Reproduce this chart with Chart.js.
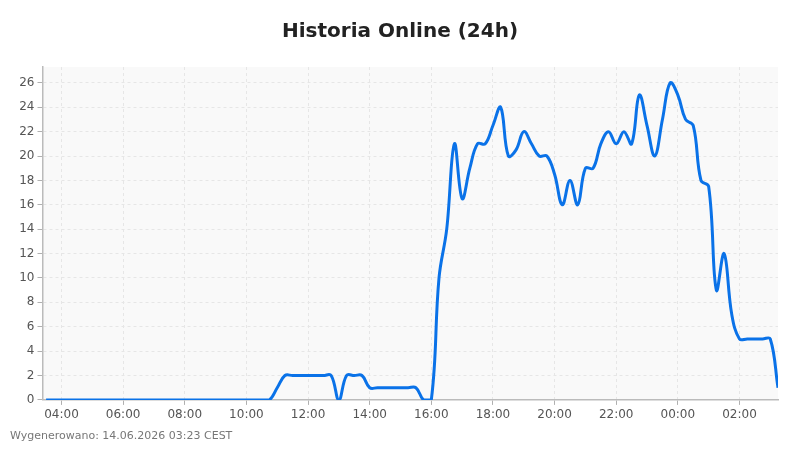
<!DOCTYPE html>
<html>
<head>
<meta charset="utf-8">
<script src="https://cdn.jsdelivr.net/npm/chart.js@4.4.1/dist/chart.umd.min.js"></script>
<style>
  html, body { margin: 0; padding: 0; background: #fff; }
  #wrap { position: relative; width: 800px; height: 450px; }
  #footer {
    position: absolute; left: 10px; top: 429px;
    font: 11px/13px 'DejaVu Sans', sans-serif; color: #777;
    white-space: nowrap;
  }
</style>
</head>
<body>
<div id="wrap">
  <canvas id="onlineChart" width="800" height="450"></canvas>
  <div id="footer">Wygenerowano: 14.06.2026 03:23 CEST</div>
</div>
<script>
// samples every 15 min, 03:30 -> 03:15 next day
const times = [
  "03:30", "03:45", "04:00", "04:15", "04:30", "04:45", "05:00", "05:15", "05:30", "05:45",
  "06:00", "06:15", "06:30", "06:45", "07:00", "07:15", "07:30", "07:45", "08:00", "08:15",
  "08:30", "08:45", "09:00", "09:15", "09:30", "09:45", "10:00", "10:15", "10:30", "10:45",
  "11:00", "11:15", "11:30", "11:45", "12:00", "12:15", "12:30", "12:45", "13:00", "13:15",
  "13:30", "13:45", "14:00", "14:15", "14:30", "14:45", "15:00", "15:15", "15:30", "15:45",
  "16:00", "16:15", "16:30", "16:45", "17:00", "17:15", "17:30", "17:45", "18:00", "18:15",
  "18:30", "18:45", "19:00", "19:15", "19:30", "19:45", "20:00", "20:15", "20:30", "20:45",
  "21:00", "21:15", "21:30", "21:45", "22:00", "22:15", "22:30", "22:45", "23:00", "23:15",
  "23:30", "23:45", "00:00", "00:15", "00:30", "00:45", "01:00", "01:15", "01:30", "01:45",
  "02:00", "02:15", "02:30", "02:45", "03:00", "03:15"
];
const online = [
  0, 0, 0, 0, 0, 0, 0, 0, 0, 0,
  0, 0, 0, 0, 0, 0, 0, 0, 0, 0,
  0, 0, 0, 0, 0, 0, 0, 0, 0, 0,
  1, 2, 2, 2, 2, 2, 2, 2, 0, 2,
  2, 2, 1, 1, 1, 1, 1, 1, 1, 0,
  0, 10, 14, 21, 16.5, 19, 21, 21, 22.5, 24,
  20, 20.5, 22, 21, 20, 20, 18.5, 16, 18, 16,
  19, 19, 21, 22, 21, 22, 21, 25, 22.5, 20,
  23, 26, 25, 23, 22.5, 18, 17.5, 9, 12, 7,
  5, 5, 5, 5, 5, 1
];
const xTicks = ["04:00", "06:00", "08:00", "10:00", "12:00", "14:00", "16:00", "18:00", "20:00", "22:00", "00:00", "02:00"];
const yTicks = [0, 2, 4, 6, 8, 10, 12, 14, 16, 18, 20, 22, 24, 26];
const rangeStart = "03:23";
const rangeEnd = "03:15";

const toMin = (s) => {
  const p = s.split(":");
  return parseInt(p[0]) * 60 + parseInt(p[1]);
};
const fmt = (m) => {
  m = ((Math.round(m) % 1440) + 1440) % 1440;
  const h = Math.floor(m / 60), mm = m % 60;
  return String(h).padStart(2, "0") + ":" + String(mm).padStart(2, "0");
};

// unwrap times past midnight
const unwrap = (list, ref) => {
  let prev = ref, out = [];
  list.forEach((t) => {
    let m = toMin(t);
    while (m < prev) m += 1440;
    out.push(m);
    prev = m;
  });
  return out;
};

const startMin = toMin(rangeStart);
const xs = unwrap(times, startMin);
const tickMins = unwrap(xTicks, startMin);
let endMin = toMin(rangeEnd);
while (endMin < xs[xs.length - 2]) endMin += 1440;

const points = xs.map((x, i) => ({ x: x, y: online[i] }));

const plotBg = {
  id: "plotBg",
  beforeDraw(chart) {
    const a = chart.chartArea, ctx = chart.ctx;
    ctx.save();
    ctx.fillStyle = "#f9f9f9";
    ctx.fillRect(a.left, a.top, a.right - a.left, a.bottom - a.top);
    ctx.restore();
  },
};

Chart.defaults.font.family = "'DejaVu Sans', sans-serif";
Chart.defaults.color = "#555";

new Chart(document.getElementById("onlineChart"), {
  type: "line",
  data: {
    datasets: [
      {
        label: "Online",
        data: points,
        borderColor: "#0a72e8",
        borderWidth: 3,
        pointRadius: 0,
        tension: 0.4,
        fill: false,
      },
    ],
  },
  options: {
    responsive: false,
    animation: false,
    layout: { padding: { left: 10, right: 10, top: 0, bottom: 24.7 } },
    plugins: {
      legend: { display: false },
      tooltip: { enabled: false },
      title: {
        display: true,
        text: "Historia Online (24h)",
        color: "#222",
        font: { size: 20, weight: "bold" },
        padding: { top: 20, bottom: 23 },
      },
    },
    scales: {
      x: {
        type: "linear",
        min: startMin,
        max: endMin,
        afterBuildTicks: (scale) => {
          scale.ticks = tickMins.map((v) => ({ value: v }));
        },
        ticks: {
          autoSkip: false,
          maxRotation: 0,
          padding: 3,
          font: { size: 12 },
          color: "#555",
          callback: (v) => fmt(v),
        },
        grid: {
          color: "#e6e6e6",
          tickColor: "#b0b0b0",
          tickLength: 5,
          tickBorderDash: [],
        },
        border: { color: "#bbb", width: 1.5, dash: [3, 3] },
      },
      y: {
        min: 0,
        max: 27.3,
        afterBuildTicks: (scale) => {
          scale.ticks = yTicks.map((v) => ({ value: v }));
        },
        afterFit: (scale) => {
          scale.width = 32.5;
        },
        ticks: {
          padding: 3,
          font: { size: 12 },
          color: "#555",
        },
        grid: {
          color: "#e6e6e6",
          tickColor: "#b0b0b0",
          tickLength: 5,
          tickBorderDash: [],
        },
        border: { color: "#bbb", width: 1.5, dash: [3, 3] },
      },
      // empty right-hand gutter so the title stays centred on the canvas
      gutter: {
        position: "right",
        min: 0,
        max: 1,
        grid: { display: false, drawTicks: false },
        border: { display: false },
        ticks: { display: false },
        afterFit: (scale) => {
          scale.width = 12;
        },
      },
    },
  },
  plugins: [plotBg],
});
</script>
</body>
</html>
